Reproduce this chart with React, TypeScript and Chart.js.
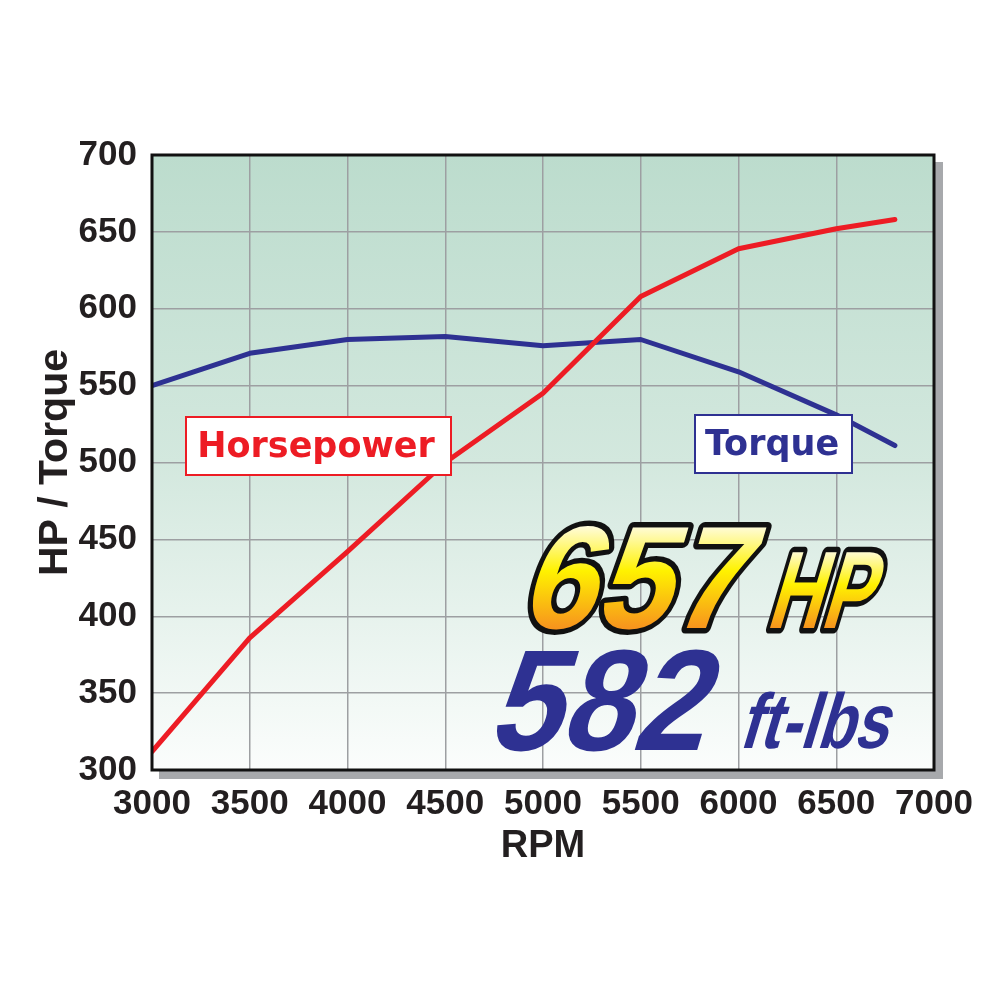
import React, { useEffect, useRef } from "react";
import { Chart, registerables } from "chart.js";

Chart.register(...registerables);

const rpm = [3000, 3500, 4000, 4500, 5000, 5500, 6000, 6500, 6800];
const horsepower = [312, 386, 442, 500, 545, 608, 639, 652, 658];
const torque = [550, 571, 580, 582, 576, 580, 559, 531, 511];

const xTicks = { min: 3000, max: 7000, step: 500 };
const yTicks = { min: 300, max: 700, step: 50 };

const seriesLabels = ["Horsepower", "Torque"];
const headlineHP = "657";
const headlineHPUnit = "HP";
const headlineTq = "582";
const headlineTqUnit = "ft-lbs";
const xTitle = "RPM";
const yTitle = "HP / Torque";

const RED = "#ed1c24";
const BLUE = "#2e3192";
const ARIAL = '"Liberation Sans", Arial, sans-serif';
const GEO = '"DejaVu Sans", Verdana, sans-serif';

function slanted(
  ctx: CanvasRenderingContext2D,
  text: string,
  x: number,
  y: number,
  size: number,
  sx: number,
  skew: number,
  fill: string | ((c: CanvasRenderingContext2D) => CanvasGradient),
  stroke?: string,
  strokeW?: number
) {
  ctx.save();
  ctx.translate(x, y);
  ctx.transform(sx, 0, -skew, 1, 0, 0);
  ctx.font = `bold ${size}px ${ARIAL}`;
  ctx.textAlign = "left";
  ctx.textBaseline = "alphabetic";
  ctx.lineJoin = "round";
  if (stroke && strokeW) {
    ctx.lineWidth = strokeW;
    ctx.strokeStyle = stroke;
    ctx.strokeText(text, 0, 0);
  }
  ctx.fillStyle = typeof fill === "string" ? fill : fill(ctx);
  ctx.fillText(text, 0, 0);
  ctx.restore();
}

function yellowGrad(h: number) {
  return (ctx: CanvasRenderingContext2D) => {
    const g = ctx.createLinearGradient(0, -h, 0, 0);
    g.addColorStop(0, "#fffce6");
    g.addColorStop(0.45, "#fff200");
    g.addColorStop(1, "#f7941d");
    return g;
  };
}

const decorPlugin = {
  id: "decor",
  beforeDraw(chart: any) {
    const { ctx, chartArea } = chart;
    const { left, top, right, bottom } = chartArea;
    ctx.save();
    ctx.fillStyle = "#a7a9ac";
    ctx.fillRect(left + 7, top + 7, right - left + 2, bottom - top + 2);
    const g = ctx.createLinearGradient(0, top, 0, bottom);
    g.addColorStop(0, "#bcdccd");
    g.addColorStop(0.5, "#d3e8de");
    g.addColorStop(1, "#fbfdfc");
    ctx.fillStyle = g;
    ctx.fillRect(left, top, right - left, bottom - top);
    ctx.restore();
  },
  afterDatasetsDraw(chart: any) {
    const { ctx, chartArea } = chart;
    const { left, top, right, bottom } = chartArea;
    ctx.save();
    ctx.strokeStyle = "#111";
    ctx.lineWidth = 3;
    ctx.strokeRect(left, top, right - left, bottom - top);

    // series label boxes
    ctx.fillStyle = "#fff";
    ctx.lineWidth = 2;
    ctx.strokeStyle = RED;
    ctx.fillRect(186, 417, 265, 58);
    ctx.strokeRect(186, 417, 265, 58);
    ctx.strokeStyle = BLUE;
    ctx.fillRect(695, 415, 157, 58);
    ctx.strokeRect(695, 415, 157, 58);
    ctx.font = `bold 35px ${GEO}`;
    ctx.textAlign = "center";
    ctx.textBaseline = "alphabetic";
    ctx.fillStyle = RED;
    ctx.fillText(seriesLabels[0], 316, 457);
    ctx.fillStyle = BLUE;
    ctx.fillText(seriesLabels[1], 772, 455);
    ctx.restore();

    // headline numbers
    slanted(ctx, headlineHP, 518, 628, 146, 0.92, 0.3, yellowGrad(104), "#111", 11);
    slanted(ctx, headlineHPUnit, 765, 628, 110, 0.68, 0.3, yellowGrad(79), "#111", 11);
    slanted(ctx, headlineTq, 486, 750, 144, 0.9, 0.3, BLUE);
    slanted(ctx, headlineTqUnit, 738, 748, 78, 0.78, 0.3, BLUE);
  },
};

export default function App() {
  const ref = useRef<HTMLCanvasElement | null>(null);
  useEffect(() => {
    if (!ref.current) return;
    const tickFont = { family: ARIAL, size: 35, weight: "bold", lineHeight: 1 };
    const chart = new Chart(ref.current, {
      type: "line",
      data: {
        datasets: [
          {
            label: seriesLabels[0],
            data: rpm.map((r, i) => ({ x: r, y: horsepower[i] })),
            borderColor: RED,
            borderWidth: 5,
            pointRadius: 0,
            borderCapStyle: "round",
            borderJoinStyle: "round",
            tension: 0,
          },
          {
            label: seriesLabels[1],
            data: rpm.map((r, i) => ({ x: r, y: torque[i] })),
            borderColor: BLUE,
            borderWidth: 5,
            pointRadius: 0,
            borderCapStyle: "round",
            borderJoinStyle: "round",
            tension: 0,
          },
        ],
      },
      options: {
        animation: false,
        responsive: false,
        devicePixelRatio: 1,
        layout: { padding: { top: 155, right: 66, left: 0, bottom: 0 } },
        plugins: { legend: { display: false }, tooltip: { enabled: false } },
        scales: {
          x: {
            type: "linear",
            min: xTicks.min,
            max: xTicks.max,
            afterFit: (s: any) => {
              s.height = 230;
            },
            afterBuildTicks: (s: any) => {
              const t = [];
              for (let v = xTicks.min; v <= xTicks.max; v += xTicks.step) t.push({ value: v });
              s.ticks = t;
            },
            grid: { color: "#9d9fa2", lineWidth: 1.5, drawTicks: false },
            border: { display: false },
            ticks: {
              autoSkip: false,
              maxRotation: 0,
              padding: 17,
              color: "#231f20",
              font: tickFont,
              callback: (v: any) => String(v),
            },
            title: {
              display: true,
              text: xTitle,
              color: "#231f20",
              font: { family: ARIAL, size: 38, weight: "bold", lineHeight: 1 },
              padding: { top: 0, bottom: 134 },
            },
          },
          y: {
            type: "linear",
            min: yTicks.min,
            max: yTicks.max,
            afterFit: (s: any) => {
              s.width = 152;
            },
            afterBuildTicks: (s: any) => {
              const t = [];
              for (let v = yTicks.min; v <= yTicks.max; v += yTicks.step) t.push({ value: v });
              s.ticks = t;
            },
            grid: { color: "#9d9fa2", lineWidth: 1.5, drawTicks: false },
            border: { display: false },
            ticks: {
              autoSkip: false,
              padding: 15,
              color: "#231f20",
              font: tickFont,
              callback: (v: any) => String(v),
            },
            title: {
              display: true,
              text: yTitle,
              color: "#231f20",
              font: { family: ARIAL, size: 41, weight: "bold", lineHeight: 1 },
              padding: { top: 35, bottom: 0 },
            },
          },
        },
      },
      plugins: [decorPlugin],
    } as any);
    return () => chart.destroy();
  }, []);
  return (
    <div style={{ position: "absolute", left: 0, top: 0, width: 1000, height: 1000, background: "#fff" }}>
      <canvas ref={ref} width={1000} height={1000} style={{ display: "block" }} />
    </div>
  );
}
